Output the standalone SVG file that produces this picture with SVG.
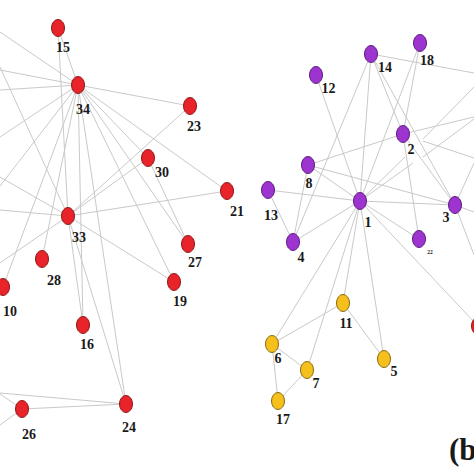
<svg xmlns="http://www.w3.org/2000/svg" width="474" height="474" viewBox="0 0 474 474">
<style>
.e{stroke:#c9c9c9;stroke-width:1;fill:none}
.r{fill:#e8232a;stroke:#8e1717;stroke-width:1}
.p{fill:#9d34cf;stroke:#5e1c7e;stroke-width:1}
.y{fill:#f5bf1c;stroke:#8a6a10;stroke-width:1}
text{font-family:"Liberation Serif","Times New Roman",serif;font-weight:bold;font-size:14px;fill:#1a1a1a;text-anchor:middle}
.s{font-size:5.5px}
.big{font-size:31px;text-anchor:start}
</style>
<rect width="474" height="474" fill="#ffffff"/>
<g id="connectors">
<line class="e" x1="58" y1="28" x2="78" y2="85"/>
<line class="e" x1="58" y1="28" x2="68" y2="216"/>
<line class="e" x1="78" y1="85" x2="190" y2="106"/>
<line class="e" x1="78" y1="85" x2="227" y2="191"/>
<line class="e" x1="78" y1="85" x2="148" y2="158"/>
<line class="e" x1="78" y1="85" x2="188" y2="244"/>
<line class="e" x1="78" y1="85" x2="174" y2="282"/>
<line class="e" x1="78" y1="85" x2="83" y2="325"/>
<line class="e" x1="78" y1="85" x2="126" y2="404"/>
<line class="e" x1="78" y1="85" x2="42" y2="259"/>
<line class="e" x1="78" y1="85" x2="3" y2="287"/>
<line class="e" x1="68" y1="216" x2="190" y2="106"/>
<line class="e" x1="68" y1="216" x2="148" y2="158"/>
<line class="e" x1="68" y1="216" x2="227" y2="191"/>
<line class="e" x1="68" y1="216" x2="174" y2="282"/>
<line class="e" x1="68" y1="216" x2="83" y2="325"/>
<line class="e" x1="68" y1="216" x2="126" y2="404"/>
<line class="e" x1="148" y1="158" x2="188" y2="244"/>
<line class="e" x1="126" y1="404" x2="22" y2="409"/>
<line class="e" x1="0" y1="393" x2="126" y2="404"/>
<line class="e" x1="0" y1="394" x2="22" y2="409"/>
<line class="e" x1="22" y1="409" x2="0" y2="425"/>
<line class="e" x1="0" y1="32" x2="78" y2="85"/>
<line class="e" x1="0" y1="70" x2="78" y2="85"/>
<line class="e" x1="0" y1="90" x2="78" y2="85"/>
<line class="e" x1="0" y1="67" x2="68" y2="216"/>
<line class="e" x1="0" y1="137" x2="78" y2="85"/>
<line class="e" x1="0" y1="186" x2="78" y2="85"/>
<line class="e" x1="0" y1="177" x2="68" y2="216"/>
<line class="e" x1="0" y1="210" x2="68" y2="216"/>
<line class="e" x1="0" y1="263" x2="68" y2="216"/>
<line class="e" x1="316" y1="75" x2="360" y2="201"/>
<line class="e" x1="371" y1="54" x2="360" y2="201"/>
<line class="e" x1="371" y1="54" x2="293" y2="242"/>
<line class="e" x1="371" y1="54" x2="455" y2="205"/>
<line class="e" x1="371" y1="54" x2="403" y2="134"/>
<line class="e" x1="371" y1="54" x2="474" y2="73"/>
<line class="e" x1="420" y1="43" x2="403" y2="134"/>
<line class="e" x1="420" y1="43" x2="360" y2="201"/>
<line class="e" x1="403" y1="134" x2="308" y2="165"/>
<line class="e" x1="403" y1="134" x2="419" y2="239"/>
<line class="e" x1="403" y1="134" x2="455" y2="205"/>
<line class="e" x1="403" y1="134" x2="474" y2="117"/>
<line class="e" x1="423" y1="141" x2="474" y2="158"/>
<line class="e" x1="360" y1="201" x2="405" y2="157"/>
<line class="e" x1="423" y1="139" x2="474" y2="87"/>
<line class="e" x1="360" y1="201" x2="413" y2="163"/>
<line class="e" x1="423" y1="157" x2="474" y2="119"/>
<line class="e" x1="308" y1="165" x2="360" y2="201"/>
<line class="e" x1="308" y1="165" x2="455" y2="205"/>
<line class="e" x1="308" y1="165" x2="293" y2="242"/>
<line class="e" x1="268" y1="190" x2="360" y2="201"/>
<line class="e" x1="268" y1="190" x2="293" y2="242"/>
<line class="e" x1="293" y1="242" x2="360" y2="201"/>
<line class="e" x1="360" y1="201" x2="455" y2="205"/>
<line class="e" x1="360" y1="201" x2="419" y2="239"/>
<line class="e" x1="360" y1="201" x2="272" y2="344"/>
<line class="e" x1="360" y1="201" x2="307" y2="370"/>
<line class="e" x1="360" y1="201" x2="343" y2="303"/>
<line class="e" x1="360" y1="201" x2="384" y2="359"/>
<line class="e" x1="360" y1="201" x2="478" y2="326"/>
<line class="e" x1="343" y1="303" x2="272" y2="344"/>
<line class="e" x1="343" y1="303" x2="384" y2="359"/>
<line class="e" x1="272" y1="344" x2="307" y2="370"/>
<line class="e" x1="272" y1="344" x2="278" y2="401"/>
<line class="e" x1="307" y1="370" x2="278" y2="401"/>
<line class="e" x1="455" y1="205" x2="474" y2="163"/>
<line class="e" x1="455" y1="205" x2="474" y2="212"/>
<line class="e" x1="455" y1="205" x2="474" y2="255"/>
</g>
<g id="n15"><ellipse class="r" cx="58" cy="28" rx="6.5" ry="8.5"/><text x="63" y="52">15</text></g>
<g id="n34"><ellipse class="r" cx="78" cy="85" rx="6.5" ry="8.5"/><text x="83" y="114">34</text></g>
<g id="n23"><ellipse class="r" cx="190" cy="106" rx="6.5" ry="8.5"/><text x="194" y="131">23</text></g>
<g id="n30"><ellipse class="r" cx="148" cy="158" rx="6.5" ry="8.5"/><text x="162" y="177">30</text></g>
<g id="n21"><ellipse class="r" cx="227" cy="191" rx="6.5" ry="8.5"/><text x="237" y="216">21</text></g>
<g id="n33"><ellipse class="r" cx="68" cy="216" rx="6.5" ry="8.5"/><text x="79" y="242">33</text></g>
<g id="n28"><ellipse class="r" cx="42" cy="259" rx="6.5" ry="8.5"/><text x="54" y="285">28</text></g>
<g id="n27"><ellipse class="r" cx="188" cy="244" rx="6.5" ry="8.5"/><text x="195" y="267">27</text></g>
<g id="n19"><ellipse class="r" cx="174" cy="282" rx="6.5" ry="8.5"/><text x="180" y="306">19</text></g>
<g id="n10"><ellipse class="r" cx="3" cy="287" rx="6.5" ry="8.5"/><text x="10" y="316">10</text></g>
<g id="n16"><ellipse class="r" cx="83" cy="325" rx="6.5" ry="8.5"/><text x="87" y="349">16</text></g>
<g id="n24"><ellipse class="r" cx="126" cy="404" rx="6.5" ry="8.5"/><text x="129" y="432">24</text></g>
<g id="n26"><ellipse class="r" cx="22" cy="409" rx="6.5" ry="8.5"/><text x="29" y="439">26</text></g>
<g id="nr"><ellipse class="r" cx="478" cy="326" rx="6.5" ry="8.5"/></g>
<g id="n12"><ellipse class="p" cx="316" cy="75" rx="6.5" ry="8.5"/><text x="328.5" y="93">12</text></g>
<g id="n14"><ellipse class="p" cx="371" cy="54" rx="6.5" ry="8.5"/><text x="385" y="72">14</text></g>
<g id="n18"><ellipse class="p" cx="420" cy="43" rx="6.5" ry="8.5"/><text x="427" y="65">18</text></g>
<g id="n2"><ellipse class="p" cx="403" cy="134" rx="6.5" ry="8.5"/><text x="411" y="154">2</text></g>
<g id="n8"><ellipse class="p" cx="308" cy="165" rx="6.5" ry="8.5"/><text x="309" y="188">8</text></g>
<g id="n13"><ellipse class="p" cx="268" cy="190" rx="6.5" ry="8.5"/><text x="271" y="220">13</text></g>
<g id="n1"><ellipse class="p" cx="360" cy="201" rx="6.5" ry="8.5"/><text x="368" y="227">1</text></g>
<g id="n3"><ellipse class="p" cx="455" cy="205" rx="6.5" ry="8.5"/><text x="446" y="222">3</text></g>
<g id="n4"><ellipse class="p" cx="293" cy="242" rx="6.5" ry="8.5"/><text x="301" y="262">4</text></g>
<g id="n22"><ellipse class="p" cx="419" cy="239" rx="6.5" ry="8.5"/><text class="s" x="430" y="254">22</text></g>
<g id="n11"><ellipse class="y" cx="343" cy="303" rx="6.5" ry="8.5"/><text x="346" y="328">11</text></g>
<g id="n6"><ellipse class="y" cx="272" cy="344" rx="6.5" ry="8.5"/><text x="278" y="363">6</text></g>
<g id="n7"><ellipse class="y" cx="307" cy="370" rx="6.5" ry="8.5"/><text x="316" y="388">7</text></g>
<g id="n5"><ellipse class="y" cx="384" cy="359" rx="6.5" ry="8.5"/><text x="394" y="376">5</text></g>
<g id="n17"><ellipse class="y" cx="278" cy="401" rx="6.5" ry="8.5"/><text x="283" y="424">17</text></g>
<text class="big" x="449" y="460">(b</text>
</svg>
